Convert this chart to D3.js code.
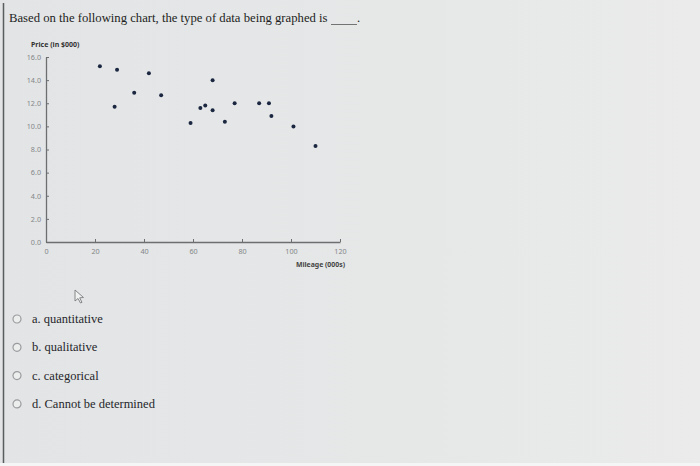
<!DOCTYPE html>
<html>
<head>
<meta charset="utf-8">
<script src="https://cdn.jsdelivr.net/npm/d3@7"></script>
<style>
  body { margin: 0; background: #e5e7e8; }
  svg { display: block; }
</style>
</head>
<body>
<div id="chart"></div>
<script>
// scatter data
const mileage = [22, 29, 28, 36, 42, 47, 59, 63, 65, 68, 68, 73, 77, 87, 91, 92, 101, 110];
const price   = [15.2, 14.9, 11.7, 12.9, 14.6, 12.7, 10.3, 11.6, 11.8, 14.0, 11.4, 10.4, 12.0, 12.0, 12.0, 10.9, 10.0, 8.3];
const xTicks = [0, 20, 40, 60, 80, 100, 120];
const yTicks = [0, 2, 4, 6, 8, 10, 12, 14, 16];
const question = "Based on the following chart, the type of data being graphed is";
const options = ["a. quantitative", "b. qualitative", "c. categorical", "d. Cannot be determined"];

const width = 700, height = 466;

const svg = d3.select("#chart").append("svg")
    .attr("width", width)
    .attr("height", height);

// photo-ish background
let defs = svg.append("defs");
let grad = defs.append("linearGradient").attr("id", "bg").attr("x1", 0).attr("x2", 1).attr("y1", 0).attr("y2", 0);
grad.append("stop").attr("offset", "0%").attr("stop-color", "#e2e4e6");
grad.append("stop").attr("offset", "60%").attr("stop-color", "#e6e8e8");
grad.append("stop").attr("offset", "100%").attr("stop-color", "#eaebea");
svg.append("rect").attr("width", width).attr("height", height).attr("fill", "url(#bg)");
svg.append("rect").attr("y", height - 3).attr("width", width).attr("height", 3).attr("fill", "#f4f5f5");

// left border of the page
svg.append("line")
    .attr("x1", 3.5).attr("x2", 3.5).attr("y1", 3).attr("y2", height - 3)
    .attr("stroke", "#5a5c5e").attr("stroke-width", 1.5);

// == QUESTION == //
svg.append("text")
    .attr("x", 9).attr("y", 22)
    .attr("font-family", "Liberation Serif, serif")
    .attr("font-size", "12.7px")
    .attr("fill", "#1e1e22")
    .text(question);
svg.append("line")
    .attr("x1", 331).attr("x2", 357).attr("y1", 24.5).attr("y2", 24.5)
    .attr("stroke", "#555").attr("stroke-width", 0.8);
svg.append("text")
    .attr("x", 357).attr("y", 22)
    .attr("font-family", "Liberation Serif, serif")
    .attr("font-size", "12.7px")
    .attr("fill", "#1e1e22")
    .text(".");

// == SCATTER == //
let x = d3.scaleLinear().domain([0, 120]).range([46, 340]);
let y = d3.scaleLinear().domain([0, 16]).range([242, 57]);

let axisColor = "#6c6e70";

let xAxis = svg.append("g")
    .attr("transform", `translate(0, ${y(0)})`)
    .call(d3.axisBottom(x).tickValues(xTicks).tickSizeInner(-3).tickSizeOuter(0).tickPadding(7));
let yAxis = svg.append("g")
    .attr("transform", `translate(${x(0)}, 0)`)
    .call(d3.axisLeft(y).tickValues(yTicks).tickFormat(d3.format(".1f")).tickSizeInner(-3).tickSizeOuter(0).tickPadding(5));

[xAxis, yAxis].forEach(g => {
    g.select(".domain").attr("stroke", axisColor).attr("stroke-width", 1.3);
    g.selectAll(".tick line").attr("stroke", axisColor).attr("stroke-width", 1);
    g.selectAll(".tick text")
        .attr("fill", "#848688")
        .attr("font-family", "Noto Sans, sans-serif")
        .attr("font-size", "7.2px");
});

svg.append("text")
    .attr("x", 31).attr("y", 47)
    .attr("font-family", "Noto Sans, sans-serif")
    .attr("font-weight", "bold")
    .attr("font-size", "7px")
    .attr("fill", "#333")
    .text("Price (in $000)");
svg.append("text")
    .attr("x", 345).attr("y", 267)
    .attr("text-anchor", "end")
    .attr("font-family", "Noto Sans, sans-serif")
    .attr("font-weight", "bold")
    .attr("font-size", "6.9px")
    .attr("fill", "#444")
    .text("Mileage (000s)");

svg.append("g")
    .selectAll("circle")
    .data(mileage)
    .enter()
    .append("circle")
    .attr("cx", d => x(d))
    .attr("cy", (d, i) => y(price[i]))
    .attr("r", 2)
    .attr("fill", "#1b2740");

// == ANSWER OPTIONS == //
let opt = svg.append("g").selectAll("g")
    .data(options)
    .enter()
    .append("g")
    .attr("transform", (d, i) => `translate(0, ${319 + i * 28.3})`);

opt.append("circle")
    .attr("cx", 17).attr("cy", 0).attr("r", 4)
    .attr("fill", "#eceeee")
    .attr("stroke", "#9a9c9e")
    .attr("stroke-width", 1.2);
opt.append("text")
    .attr("x", 32).attr("y", 4)
    .attr("font-family", "Liberation Serif, serif")
    .attr("font-size", "12.5px")
    .attr("fill", "#26262a")
    .text(d => d);

// mouse cursor left on the screen
svg.append("path")
    .attr("d", "M75,290 L75,301 L78,298.5 L80.5,303 L82,302.3 L79.7,297.8 L83.5,297.5 Z")
    .attr("fill", "#f0f1f1")
    .attr("stroke", "#7a7c7e")
    .attr("stroke-width", 0.9);
</script>
</body>
</html>
